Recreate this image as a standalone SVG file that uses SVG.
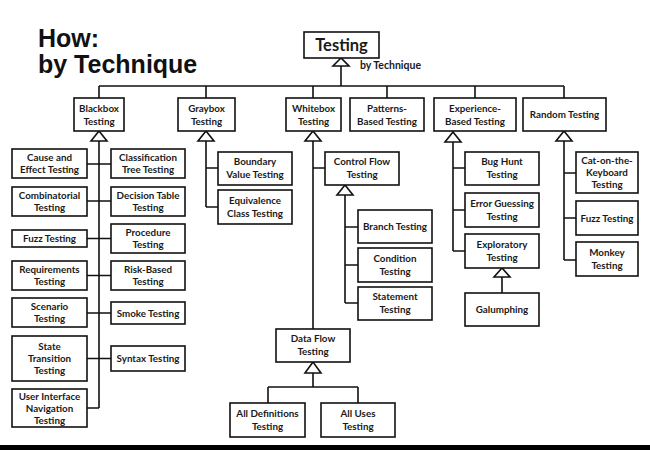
<svg xmlns="http://www.w3.org/2000/svg" width="650" height="450" viewBox="0 0 650 450">
<style>
.b{fill:#fff;stroke:#111;stroke-width:1.6}
.t{font-family:Lato,"Liberation Sans",sans-serif;font-weight:700;font-size:9.8px;fill:#1a1a1a;text-anchor:middle}
.c{fill:none;stroke:#111;stroke-width:1.6}
.tri{fill:#fff;stroke:#111;stroke-width:1.6;stroke-linejoin:miter}
.h{font-family:"Liberation Sans",Arial,sans-serif;font-weight:700;font-size:25px;fill:#111}
</style>
<rect width="650" height="450" fill="#fff"/>
<text class="h" x="38" y="47">How:</text>
<text class="h" x="38" y="73">by Technique</text>

<g id="connectors">
<path class="c" d="M341,66V86M99,86H564M99,86V98M206,86V98M313,86V98M387,86V98M475,86V98M564,86V98"/>
<path class="c" d="M99,141V408M87,164H111M87,201H111M87,238.5H111M87,275.5H111M87,313H111M87,358.5H111M87,408H99"/>
<path class="c" d="M206,141V207M206,168H218M206,207H218"/>
<path class="c" d="M313,141V329M313,168H325M345,195V303M345,227H358M345,265H358M345,303H358"/>
<path class="c" d="M313,373V387M268,387H358M268,387V403M358,387V403"/>
<path class="c" d="M453,142V251M453,168H465M453,210H465M453,251H465M502,277V293"/>
<path class="c" d="M564,141V260M564,173H576M564,218H576M564,260H576"/>
<polygon class="tri" points="341,58 333,66 349,66"/>
<polygon class="tri" points="99,131 91,141 107,141"/>
<polygon class="tri" points="206,131 198,141 214,141"/>
<polygon class="tri" points="313,131 305,141 321,141"/>
<polygon class="tri" points="345,185 337,195 353,195"/>
<polygon class="tri" points="313,362 305,373 321,373"/>
<polygon class="tri" points="453,132 445,142 461,142"/>
<polygon class="tri" points="502,268 494,277 510,277"/>
<polygon class="tri" points="564,131 556,141 572,141"/>
</g>
<text x="360" y="69" class="t" style="text-anchor:start;font-size:10.5px">by Technique</text>

<g id="testing"><rect class="b" x="304" y="32" width="75" height="26"/><text class="t" x="341.5" y="51" style="font-size:16.5px">Testing</text></g>

<g id="blackbox"><rect class="b" x="74" y="98" width="50" height="33"/><text class="t" x="99" y="111.5">Blackbox</text><text class="t" x="99" y="124.5">Testing</text></g>
<g id="graybox"><rect class="b" x="178" y="98" width="57" height="33"/><text class="t" x="206.5" y="111.5">Graybox</text><text class="t" x="206.5" y="124.5">Testing</text></g>
<g id="whitebox"><rect class="b" x="286" y="98" width="55" height="33"/><text class="t" x="313.5" y="111.5">Whitebox</text><text class="t" x="313.5" y="124.5">Testing</text></g>
<g id="patterns"><rect class="b" x="350" y="98" width="74" height="33"/><text class="t" x="387" y="111.5">Patterns-</text><text class="t" x="387" y="124.5">Based Testing</text></g>
<g id="experience"><rect class="b" x="434" y="98" width="82" height="33"/><text class="t" x="475" y="111.5">Experience-</text><text class="t" x="475" y="124.5">Based Testing</text></g>
<g id="random"><rect class="b" x="523" y="98" width="83" height="33"/><text class="t" x="564.5" y="118">Random Testing</text></g>

<g id="cause"><rect class="b" x="12" y="149" width="75" height="29"/><text class="t" x="49.5" y="160.5">Cause and</text><text class="t" x="49.5" y="173">Effect Testing</text></g>
<g id="combinatorial"><rect class="b" x="12" y="187" width="75" height="29"/><text class="t" x="49.5" y="198.5">Combinatorial</text><text class="t" x="49.5" y="211">Testing</text></g>
<g id="fuzz1"><rect class="b" x="12" y="230" width="75" height="17"/><text class="t" x="49.5" y="242">Fuzz Testing</text></g>
<g id="requirements"><rect class="b" x="12" y="261" width="75" height="29"/><text class="t" x="49.5" y="272.5">Requirements</text><text class="t" x="49.5" y="285">Testing</text></g>
<g id="scenario"><rect class="b" x="12" y="298" width="75" height="29"/><text class="t" x="49.5" y="309.5">Scenario</text><text class="t" x="49.5" y="322">Testing</text></g>
<g id="state"><rect class="b" x="12" y="336" width="75" height="45"/><text class="t" x="49.5" y="350">State</text><text class="t" x="49.5" y="362">Transition</text><text class="t" x="49.5" y="374">Testing</text></g>
<g id="ui"><rect class="b" x="12" y="389" width="75" height="38"/><text class="t" x="49.5" y="399.5">User Interface</text><text class="t" x="49.5" y="411.5">Navigation</text><text class="t" x="49.5" y="423.5">Testing</text></g>

<g id="classification"><rect class="b" x="111" y="149" width="74" height="29"/><text class="t" x="148" y="160.5">Classification</text><text class="t" x="148" y="173">Tree Testing</text></g>
<g id="decision"><rect class="b" x="111" y="187" width="74" height="29"/><text class="t" x="148" y="198.5">Decision Table</text><text class="t" x="148" y="211">Testing</text></g>
<g id="procedure"><rect class="b" x="111" y="224" width="74" height="29"/><text class="t" x="148" y="235.5">Procedure</text><text class="t" x="148" y="248">Testing</text></g>
<g id="risk"><rect class="b" x="111" y="261" width="74" height="29"/><text class="t" x="148" y="272.5">Risk-Based</text><text class="t" x="148" y="285">Testing</text></g>
<g id="smoke"><rect class="b" x="111" y="302" width="74" height="22"/><text class="t" x="148" y="316.5">Smoke Testing</text></g>
<g id="syntax"><rect class="b" x="111" y="346" width="74" height="25"/><text class="t" x="148" y="362">Syntax Testing</text></g>

<g id="boundary"><rect class="b" x="218" y="152" width="74" height="33"/><text class="t" x="255" y="165">Boundary</text><text class="t" x="255" y="178">Value Testing</text></g>
<g id="equivalence"><rect class="b" x="218" y="190" width="74" height="34"/><text class="t" x="255" y="203.5">Equivalence</text><text class="t" x="255" y="216.5">Class Testing</text></g>

<g id="controlflow"><rect class="b" x="325" y="152" width="74" height="33"/><text class="t" x="362" y="165">Control Flow</text><text class="t" x="362" y="178">Testing</text></g>
<g id="branch"><rect class="b" x="358" y="210" width="74" height="33"/><text class="t" x="395" y="230">Branch Testing</text></g>
<g id="condition"><rect class="b" x="358" y="248" width="74" height="34"/><text class="t" x="395" y="261.5">Condition</text><text class="t" x="395" y="274.5">Testing</text></g>
<g id="statement"><rect class="b" x="358" y="287" width="74" height="33"/><text class="t" x="395" y="300">Statement</text><text class="t" x="395" y="313">Testing</text></g>
<g id="dataflow"><rect class="b" x="276" y="329" width="74" height="33"/><text class="t" x="313" y="342">Data Flow</text><text class="t" x="313" y="355">Testing</text></g>
<g id="alldefs"><rect class="b" x="230" y="403" width="75" height="34"/><text class="t" x="267.5" y="416.5">All Definitions</text><text class="t" x="267.5" y="429.5">Testing</text></g>
<g id="alluses"><rect class="b" x="321" y="403" width="74" height="34"/><text class="t" x="358" y="416.5">All Uses</text><text class="t" x="358" y="429.5">Testing</text></g>

<g id="bughunt"><rect class="b" x="465" y="152" width="74" height="33"/><text class="t" x="502" y="165">Bug Hunt</text><text class="t" x="502" y="178">Testing</text></g>
<g id="errorguessing"><rect class="b" x="465" y="193" width="74" height="34"/><text class="t" x="502" y="206.5">Error Guessing</text><text class="t" x="502" y="219.5">Testing</text></g>
<g id="exploratory"><rect class="b" x="465" y="234" width="74" height="34"/><text class="t" x="502" y="247.5">Exploratory</text><text class="t" x="502" y="260.5">Testing</text></g>
<g id="galumphing"><rect class="b" x="465" y="293" width="74" height="33"/><text class="t" x="502" y="313">Galumphing</text></g>

<g id="catkeyboard"><rect class="b" x="576" y="152" width="62" height="41"/><text class="t" x="607" y="164">Cat-on-the-</text><text class="t" x="607" y="176">Keyboard</text><text class="t" x="607" y="188">Testing</text></g>
<g id="fuzz2"><rect class="b" x="576" y="201" width="62" height="34"/><text class="t" x="607" y="221.5">Fuzz Testing</text></g>
<g id="monkey"><rect class="b" x="576" y="242" width="62" height="34"/><text class="t" x="607" y="255.5">Monkey</text><text class="t" x="607" y="268.5">Testing</text></g>

<rect x="0" y="445" width="650" height="5" fill="#000"/>
</svg>
